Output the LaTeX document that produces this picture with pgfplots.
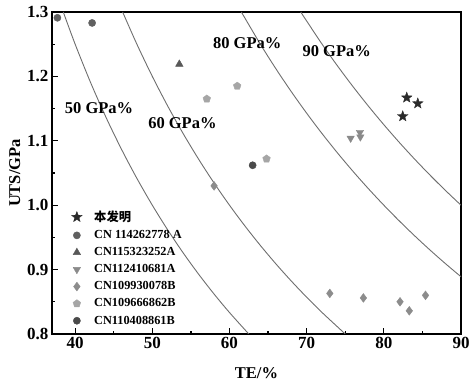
\documentclass[border=0pt]{standalone}
\usepackage{fontspec}
\setmainfont{Liberation Serif}
\newfontfamily\cjk{Noto Sans CJK SC}
\usepackage{pgfplots}
\pgfplotsset{compat=1.18}
\usetikzlibrary{plotmarks}
\definecolor{cstar}{HTML}{2A2A2A}
\definecolor{ccirc}{HTML}{606060}
\definecolor{ctriu}{HTML}{585858}
\definecolor{ctrid}{HTML}{8A8A8A}
\definecolor{cdia}{HTML}{8C8C8C}
\definecolor{cpent}{HTML}{A6A6A6}
\definecolor{chex}{HTML}{4A4A4A}
\definecolor{ccurve}{HTML}{6E6E6E}
\pgfdeclareplotmark{fstar}{%
  \pgfpathmoveto{\pgfpointpolar{90}{\pgfplotmarksize}}%
  \pgfpathlineto{\pgfpointpolar{126}{0.42\pgfplotmarksize}}%
  \pgfpathlineto{\pgfpointpolar{162}{\pgfplotmarksize}}%
  \pgfpathlineto{\pgfpointpolar{198}{0.42\pgfplotmarksize}}%
  \pgfpathlineto{\pgfpointpolar{234}{\pgfplotmarksize}}%
  \pgfpathlineto{\pgfpointpolar{270}{0.42\pgfplotmarksize}}%
  \pgfpathlineto{\pgfpointpolar{306}{\pgfplotmarksize}}%
  \pgfpathlineto{\pgfpointpolar{342}{0.42\pgfplotmarksize}}%
  \pgfpathlineto{\pgfpointpolar{18}{\pgfplotmarksize}}%
  \pgfpathlineto{\pgfpointpolar{54}{0.42\pgfplotmarksize}}%
  \pgfpathclose
  \pgfusepathqfillstroke}
\begin{document}
\begin{tikzpicture}
\useasboundingbox (-52pt,-53pt) rectangle (422pt,334pt);
\begin{axis}[
  scale only axis,
  width=409pt, height=322pt,
  xmin=37, xmax=90, ymin=0.8, ymax=1.3,
  xtick={40,50,60,70,80,90},
  ytick={0.8,0.9,1.0,1.1,1.2,1.3},
  minor xtick={45,55,65,75,85},
  minor ytick={0.85,0.95,1.05,1.15,1.25},
  xticklabel={\pgfmathprintnumber[assume math mode=true]{\tick}},
  yticklabel={\pgfmathprintnumber[assume math mode=true,fixed,fixed zerofill,precision=1]{\tick}},
  tick label style={font=\bfseries\fontsize{17}{17}\selectfont},
  tick align=inside,
  xtick pos=bottom, ytick pos=left,
  major tick length=6pt, minor tick length=3pt,
  tick style={line width=1.2pt,black},
  axis line style={line width=1.6pt},
  xlabel={TE/\%}, ylabel={UTS/GPa},
  label style={font=\bfseries\fontsize{16.5}{16.5}\selectfont},
  xlabel style={yshift=-12pt},
  ylabel style={yshift=0pt},
  legend style={at={(rel axis cs:0.04,0.395)}, anchor=north west, draw=none, fill=none,
    font=\bfseries\fontsize{12.3}{13}\selectfont, row sep=3.4pt,
    /tikz/every odd column/.append style={column sep=10pt}},
  legend cell align=left,
  clip=true,
]
% iso-lines
\addplot[ccurve, line width=0.9pt, smooth, forget plot] coordinates {
 (38.4615,1.3) (40,1.25) (42,1.19048) (44,1.13636) (46,1.08696) (48,1.04167) (50,1.0)
 (52,0.96154) (54,0.92593) (56,0.89286) (58,0.86207) (60,0.83333) (62.5,0.8)};
\addplot[ccurve, line width=0.9pt, smooth, forget plot] coordinates {
 (46.1538,1.3) (48,1.25) (50,1.2) (52,1.15385) (54,1.11111) (56,1.07143) (58,1.03448)
 (60,1.0) (62,0.96774) (64,0.9375) (66,0.90909) (68,0.88235) (70,0.85714) (72,0.83333) (75,0.8)};
\addplot[ccurve, line width=0.9pt, smooth, forget plot] coordinates {
 (61.5385,1.3) (64,1.25) (66,1.21212) (68,1.17647) (70,1.14286) (72,1.11111) (74,1.08108)
 (76,1.05263) (78,1.02564) (80,1.0) (82,0.97561) (84,0.95238) (86,0.93023) (88,0.90909) (90,0.88889)};
\addplot[ccurve, line width=0.9pt, smooth, forget plot] coordinates {
 (69.2308,1.3) (72,1.25) (74,1.21622) (76,1.18421) (78,1.15385) (80,1.125) (82,1.09756)
 (84,1.07143) (86,1.04651) (88,1.02273) (90,1.0)};
% data
\addplot[only marks, mark=fstar, mark size=5.6pt, mark options={fill=cstar, draw=cstar, line width=0.3pt}] coordinates {
 (82.97,1.167) (84.4,1.158) (82.45,1.138)};
\addlegendentry{{\cjk\bfseries 本发明}}
\addplot[only marks, mark=*, mark size=3.6pt, mark options={fill=ccirc, draw=ccirc}] coordinates {
 (37.7,1.291) (42.2,1.283)};
\addlegendentry{CN 114262778 A}
\addplot[only marks, mark=triangle*, mark size=4.3pt, mark options={fill=ctriu, draw=ctriu}] coordinates {
 (53.5,1.219)};
\addlegendentry{CN115323252A}
\addplot[only marks, mark=triangle*, mark size=4.3pt, mark options={fill=ctrid, draw=ctrid, rotate=180}] coordinates {
 (75.7,1.104) (76.9,1.113) (76.96,1.106)};
\addlegendentry{CN112410681A}
\addplot[only marks, mark=diamond*, mark size=4.4pt, mark options={fill=cdia, draw=cdia}] coordinates {
 (58.0,1.030) (73.0,0.863) (77.35,0.856) (82.1,0.850) (83.3,0.836) (85.4,0.860)};
\addlegendentry{CN109930078B}
\addplot[only marks, mark=pentagon*, mark size=4pt, mark options={fill=cpent, draw=cpent}] coordinates {
 (57.06,1.165) (61.0,1.185) (64.8,1.072)};
\addlegendentry{CN109666862B}
\addplot[only marks, mark=*, mark size=3.6pt, mark options={fill=chex, draw=chex}] coordinates {
 (63.0,1.062)};
\addlegendentry{CN110408861B}
% labels
\node[font=\bfseries\fontsize{16.5}{16.5}\selectfont, anchor=center] at (axis cs:43.1,1.151) {50 GPa\%};
\node[font=\bfseries\fontsize{16.5}{16.5}\selectfont, anchor=center] at (axis cs:53.9,1.128) {60 GPa\%};
\node[font=\bfseries\fontsize{16.5}{16.5}\selectfont, anchor=center] at (axis cs:62.3,1.252) {80 GPa\%};
\node[font=\bfseries\fontsize{16.5}{16.5}\selectfont, anchor=center] at (axis cs:73.9,1.239) {90 GPa\%};
\end{axis}
\end{tikzpicture}
\end{document}
